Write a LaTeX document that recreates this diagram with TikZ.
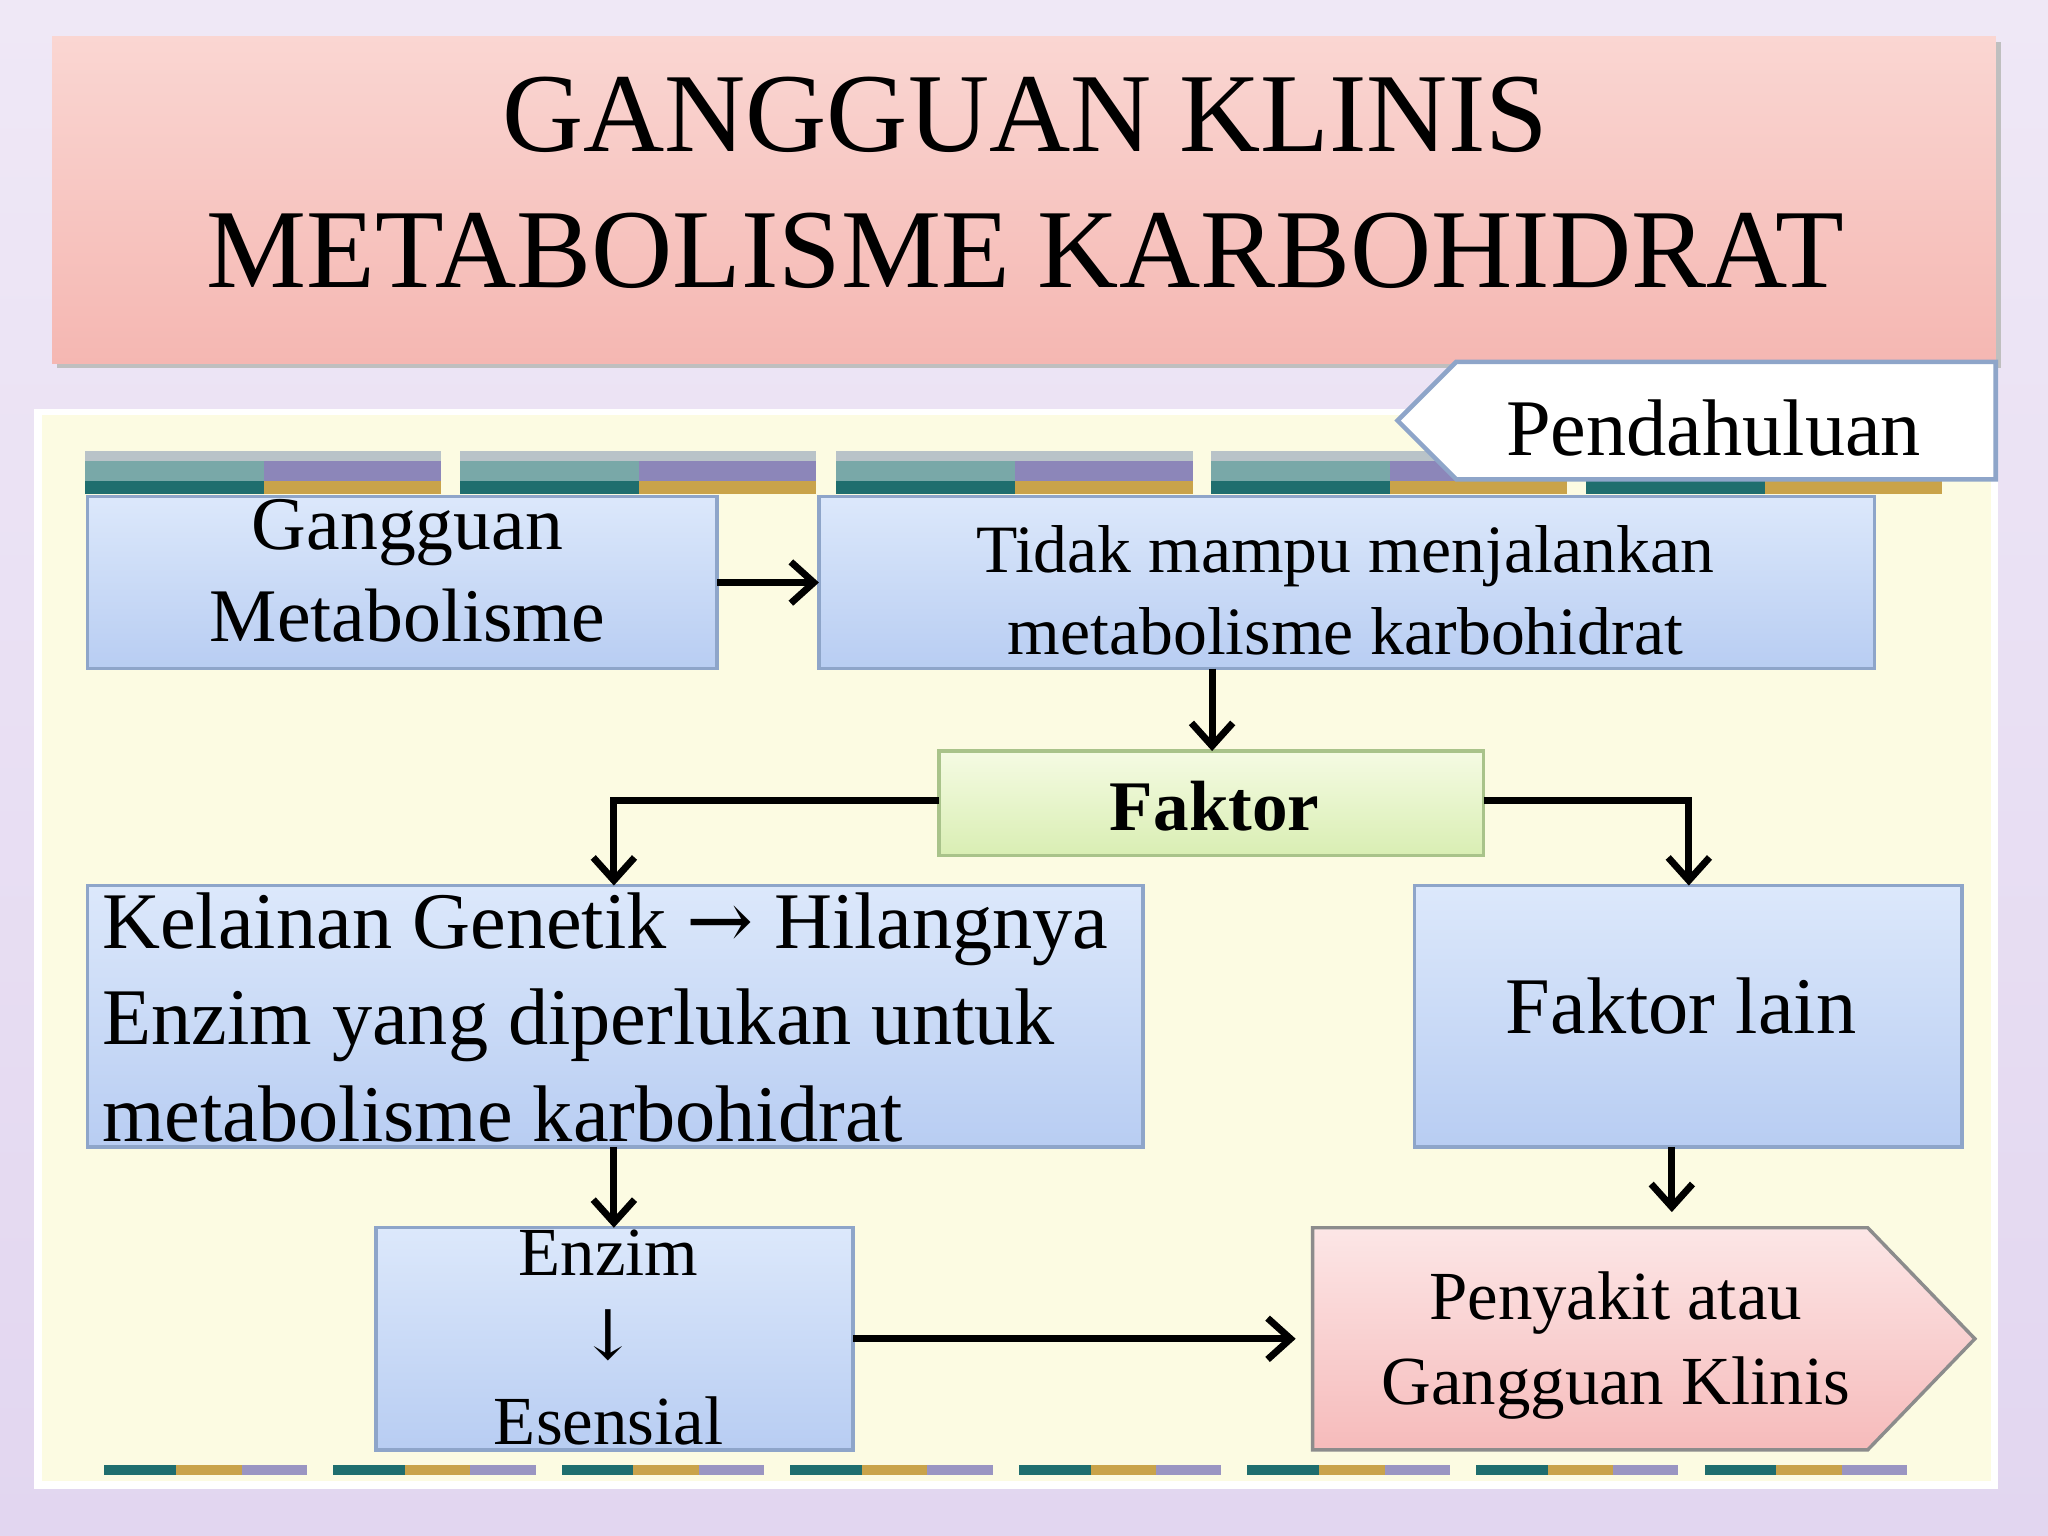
\documentclass[tikz,border=0pt]{standalone}
\usepackage{fontspec}
\setmainfont{Liberation Serif}
\newfontfamily\symfont{DejaVu Serif}
\usetikzlibrary{arrows.meta,calc}
\definecolor{bgA}{HTML}{EFE8F6}
\definecolor{bgB}{HTML}{E2D6F0}
\definecolor{tA}{HTML}{FAD6D2}
\definecolor{tB}{HTML}{F5B7B2}
\definecolor{cream}{HTML}{FCFBE2}
\definecolor{bA}{HTML}{DCE8FB}
\definecolor{bB}{HTML}{B8CDF2}
\definecolor{bE}{HTML}{8EA5C9}
\definecolor{gA}{HTML}{F5FBE3}
\definecolor{gB}{HTML}{D9EEB3}
\definecolor{gE}{HTML}{A9C38A}
\definecolor{pA}{HTML}{FCE6E6}
\definecolor{pB}{HTML}{F6BBBB}
\definecolor{sTeal}{HTML}{1F6E6E}
\definecolor{sGold}{HTML}{C9A34A}
\definecolor{sPur}{HTML}{6F68A8}
\definecolor{sGray}{HTML}{B9C3C8}
\newcommand{\fsz}[2]{\fontsize{#1}{#2}\selectfont}
\tikzset{
 bluebox/.style={draw=bE,line width=1.5pt,top color=bA,bottom color=bB,inner sep=0pt},
 conn/.style={line width=3pt,-{Straight Barb[length=10pt,width=18pt,line width=3pt]}},
 lbl/.style={align=center,inner sep=0pt},
}
\begin{document}
\begin{tikzpicture}[x=0.02cm,y=-0.02cm]
\useasboundingbox (0,0) rectangle (1568,1176);
\shade[top color=bgA,bottom color=bgB] (0,0) rectangle (1568,1176);
% title
\fill[black!25] (44,32) rectangle (1532,282);
\shade[top color=tA,bottom color=tB] (40,28) rectangle (1528,278);
\node[lbl,font=\fsz{49}{59}] (title) at (785,140) {GANGGUAN KLINIS\\METABOLISME KARBOHIDRAT};
% panel
\fill[white] (26,313) rectangle (1530,1140);
\fill[cream] (32,318) rectangle (1524,1134);
% stripes
\foreach \x in {65,352,640,927,1214}{
 \fill[sGray] (\x,345) rectangle ++(273,8);
 \fill[sTeal!60] (\x,353) rectangle ++(137,15);
 \fill[sPur!80] (\x+137,353) rectangle ++(136,15);
 \fill[sTeal] (\x,368) rectangle ++(137,10);
 \fill[sGold] (\x+137,368) rectangle ++(136,10);
}
\foreach \x in {80,255,430,605,780,955,1130,1305}{
 \fill[sTeal] (\x,1122) rectangle ++(55,7);
 \fill[sGold] (\x+55,1122) rectangle ++(50,7);
 \fill[sPur!70] (\x+105,1122) rectangle ++(50,7);
}
% Pendahuluan tab
\draw[draw=bE,line width=2pt,fill=white] (1070,322) -- (1115,277) -- (1528,277) -- (1528,367) -- (1115,367) -- cycle;
\node[lbl,font=\fsz{35}{40}] (pend) at (1312,328) {Pendahuluan};
% boxes
\draw[bluebox] (67,380) rectangle (549,512);
\node[lbl,font=\fsz{33}{40}] (b1) at (312,437) {Gangguan\\Metabolisme};
\coordinate (b1r) at (549,446);
\draw[bluebox] (627,380) rectangle (1435,512);
\node[lbl,font=\fsz{29.5}{36}] (b2) at (1030,452) {Tidak mampu menjalankan\\metabolisme karbohidrat};
\coordinate (b2l) at (627,446);
\coordinate (b2b) at (928,512);
\draw[draw=gE,line width=1.5pt,top color=gA,bottom color=gB] (719,575) rectangle (1136,655);
\node[lbl,font=\fsz{31}{36}\bfseries] (fak) at (930,617) {Faktor};
\coordinate (fakt) at (928,575);
\coordinate (fakl) at (719,613);
\coordinate (fakr) at (1136,613);
\draw[bluebox] (67,678) rectangle (875,878);
\node[lbl,align=left,anchor=north west,font=\fsz{35}{42}] (b3) at (78,683) {Kelainan Genetik {\symfont →} Hilangnya\\Enzim yang diperlukan untuk\\metabolisme karbohidrat};
\coordinate (b3t) at (470,678);
\coordinate (b3b) at (470,878);
\draw[bluebox] (1083,678) rectangle (1502,878);
\node[lbl,font=\fsz{35}{42}] (b4) at (1287,770) {Faktor lain};
\coordinate (b4t) at (1293,678);
\coordinate (b4b) at (1280,878);
\coordinate (b4e) at (1280,928);
\draw[bluebox] (288,940) rectangle (653,1110);
\node[lbl,font=\fsz{30}{37}] (b5) at (466,1024) {Enzim\\{\symfont ↓}\\Esensial};
\coordinate (b5t) at (470,940);
\coordinate (b5r) at (653,1025);
\draw[draw=black!45,line width=1.5pt,top color=pA,bottom color=pB] (1005,940) -- (1430,940) -- (1512,1025) -- (1430,1110) -- (1005,1110) -- cycle;
\node[lbl,font=\fsz{30}{37}] (pen) at (1237,1030) {Penyakit atau\\Gangguan Klinis};
\coordinate (penl) at (992,1025);
% connectors
\draw[conn] (b1r) -- (b2l);
\draw[conn] (b2b) -- (fakt);
\draw[conn] (fakl) -| (b3t);
\draw[conn] (fakr) -| (b4t);
\draw[conn] (b3b) -- (b5t);
\draw[conn] (b4b) -- (b4e);
\draw[conn] (b5r) -- (penl);
\end{tikzpicture}
\end{document}
